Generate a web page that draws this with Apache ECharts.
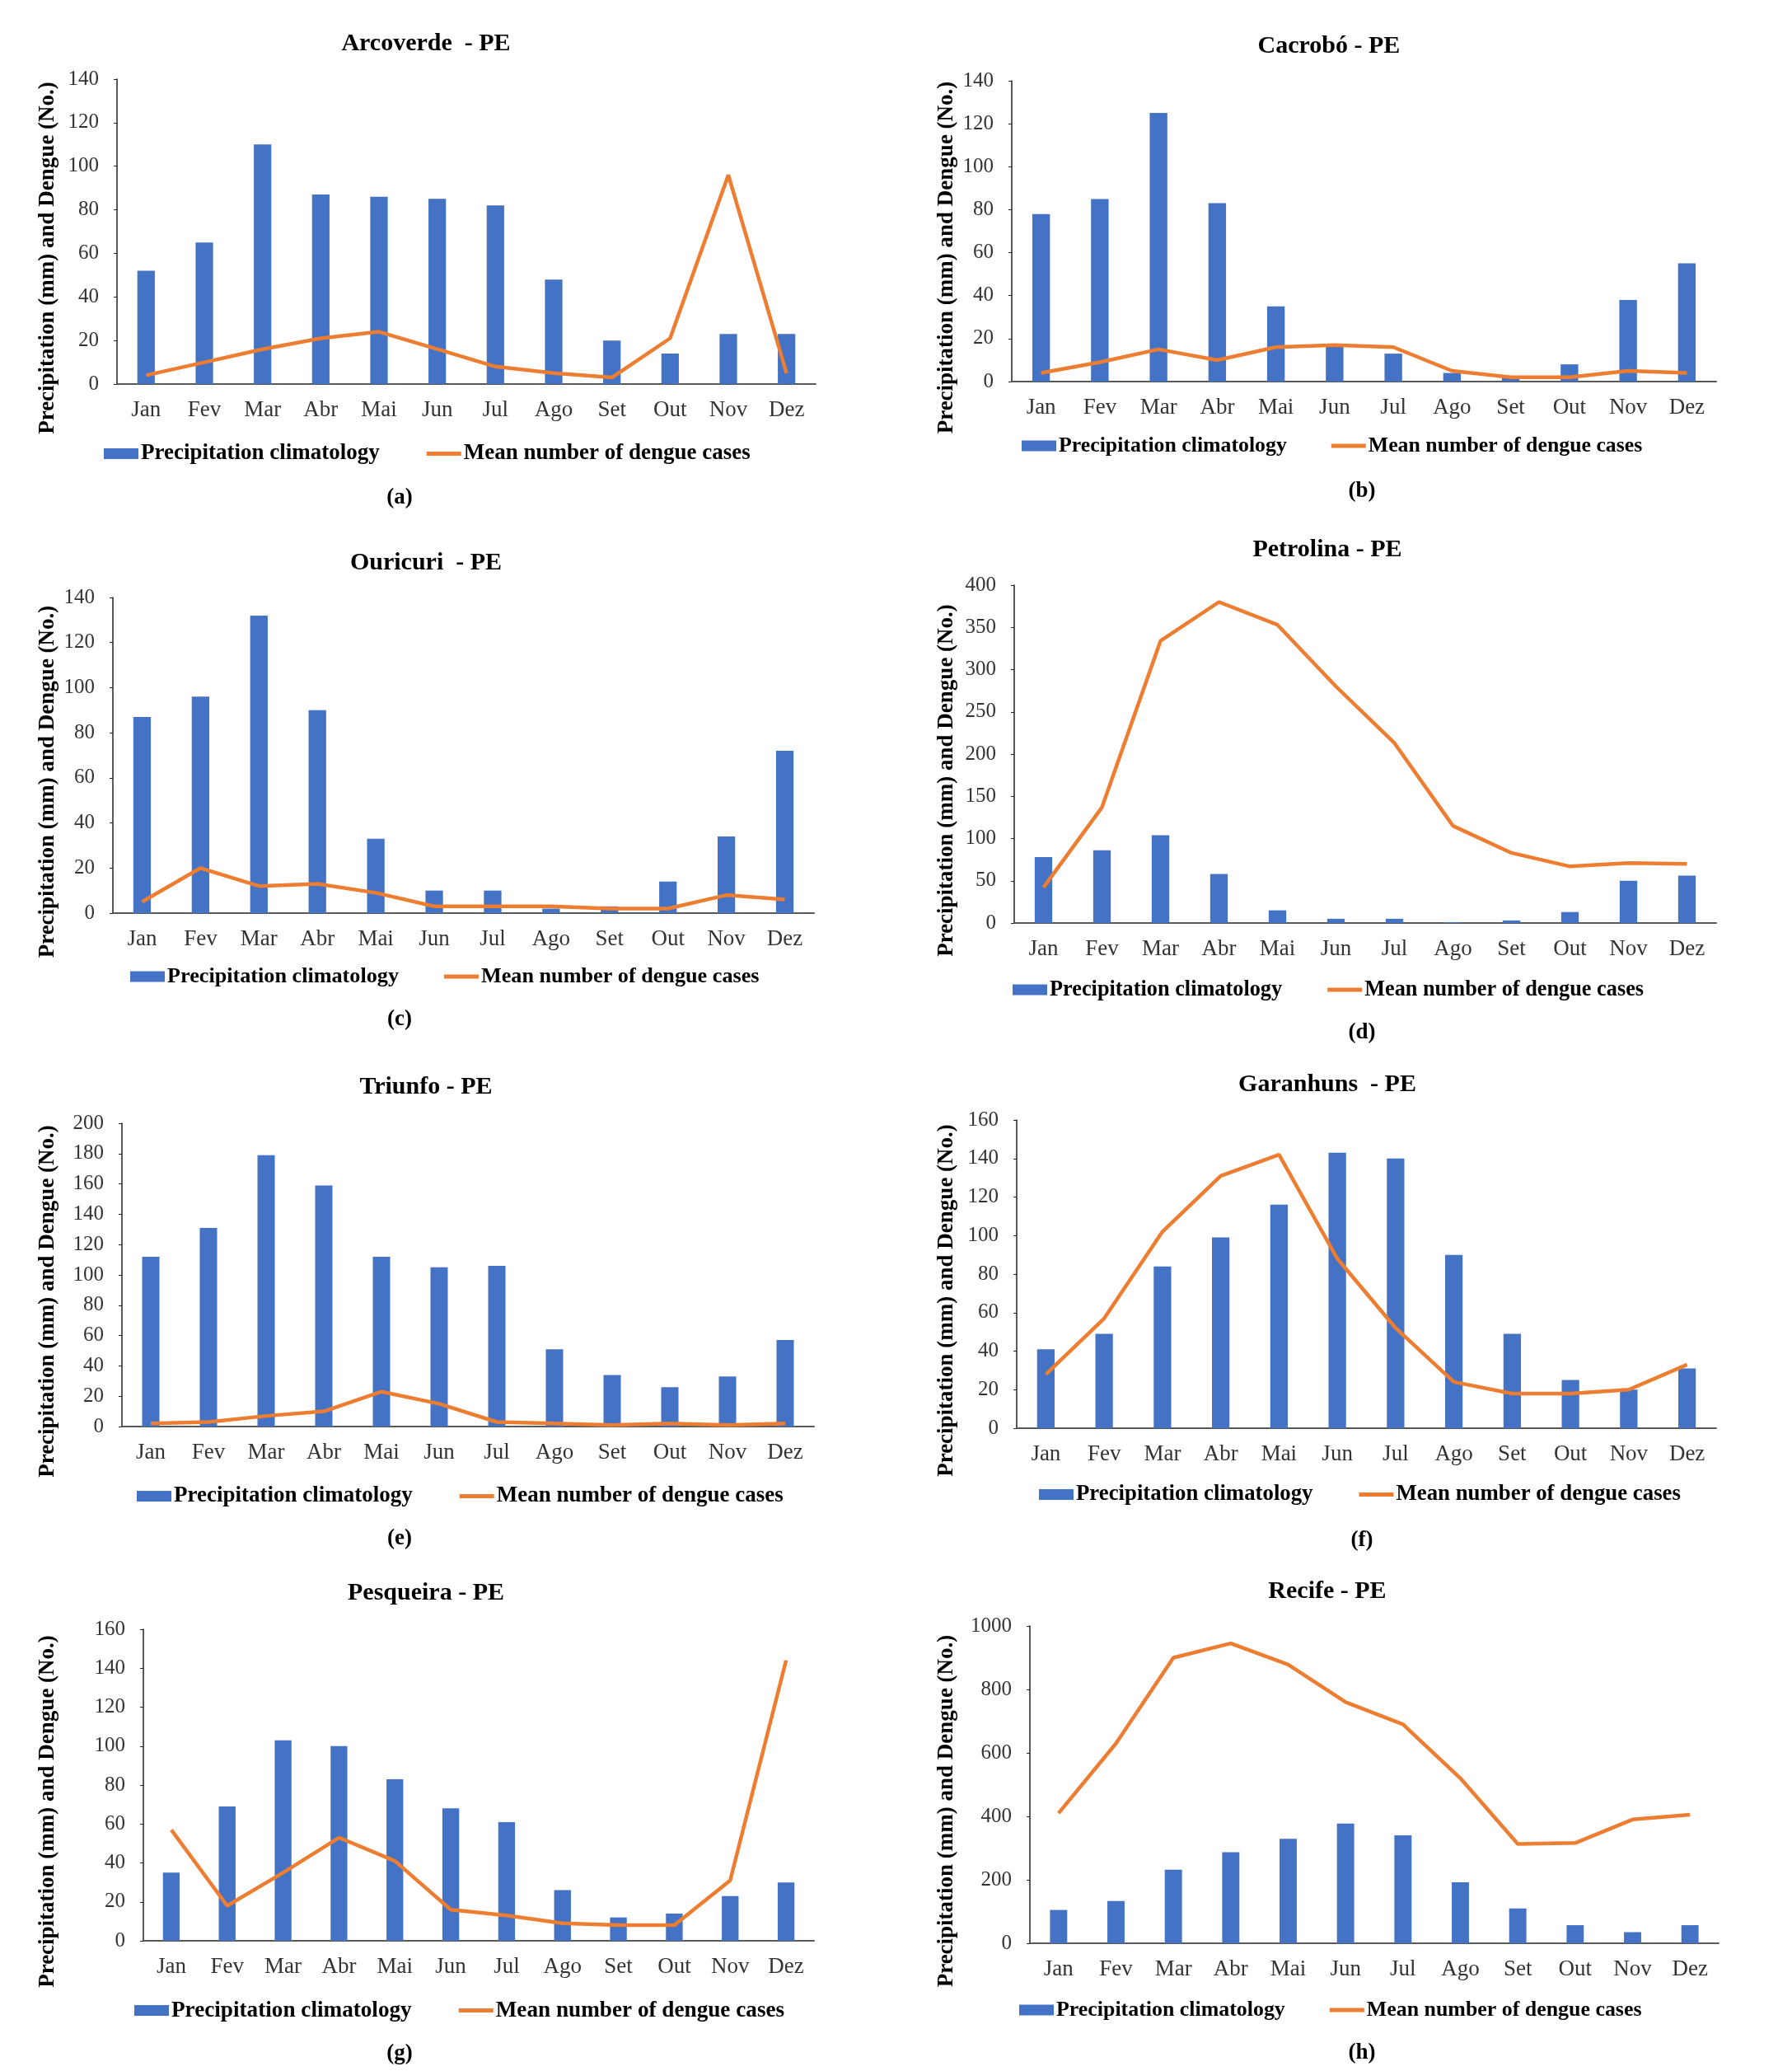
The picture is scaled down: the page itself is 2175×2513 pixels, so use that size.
<!DOCTYPE html>
<html>
<head>
<meta charset="utf-8">
<title>Precipitation and dengue - PE</title>
<style>
  html, body { margin: 0; padding: 0; background: #fff; }
  #main { width: 2175px; height: 2513px; }
</style>
</head>
<body>
<div id="main"></div>
<script src="https://cdn.jsdelivr.net/npm/echarts@6/dist/echarts.min.js"></script>
<script>
// month categories
var months = ['Jan', 'Fev', 'Mar', 'Abr', 'Mai', 'Jun', 'Jul', 'Ago', 'Set', 'Out', 'Nov', 'Dez'];

// precipitation climatology (mm) and mean dengue cases
var arcoverdeRain   = [52, 65, 110, 87, 86, 85, 82, 48, 20, 14, 23, 23];
var arcoverdeDengue = [4, 10, 16, 21, 24, 16, 8, 5, 3, 21, 96, 5];
var cacroboRain     = [78, 85, 125, 83, 35, 17, 13, 4, 2, 8, 38, 55];
var cacroboDengue   = [4, 9, 15, 10, 16, 17, 16, 5, 2, 2, 5, 4];
var ouricuriRain    = [87, 96, 132, 90, 33, 10, 10, 2, 3, 14, 34, 72];
var ouricuriDengue  = [5, 20, 12, 13, 9, 3, 3, 3, 2, 2, 8, 6];
var petrolinaRain   = [78, 86, 104, 58, 15, 5, 5, 1, 3, 13, 50, 56];
var petrolinaDengue = [42, 137, 334, 380, 353, 280, 213, 115, 83, 67, 71, 70];
var triunfoRain     = [112, 131, 179, 159, 112, 105, 106, 51, 34, 26, 33, 57];
var triunfoDengue   = [2, 3, 7, 10, 23, 15, 3, 2, 1, 2, 1, 2];
var garanhunsRain   = [41, 49, 84, 99, 116, 143, 140, 90, 49, 25, 20, 31];
var garanhunsDengue = [28, 57, 102, 131, 142, 88, 52, 24, 18, 18, 20, 33];
var pesqueiraRain   = [35, 69, 103, 100, 83, 68, 61, 26, 12, 14, 23, 30];
var pesqueiraDengue = [57, 18, 35, 53, 41, 16, 13, 9, 8, 8, 31, 144];
var recifeRain      = [105, 133, 232, 287, 329, 377, 340, 192, 110, 57, 35, 57];
var recifeDengue    = [410, 630, 900, 945, 878, 760, 690, 520, 313, 316, 390, 405];

// axis maxima and tick steps
var axisMax  = [140, 140, 140, 400, 200, 160, 160, 1000];
var axisStep = [20, 20, 20, 50, 20, 20, 20, 200];

var titles = ['Arcoverde  - PE', 'Cacrobó - PE', 'Ouricuri  - PE', 'Petrolina - PE',
              'Triunfo - PE', 'Garanhuns  - PE', 'Pesqueira - PE', 'Recife - PE'];
var letters = ['(a)', '(b)', '(c)', '(d)', '(e)', '(f)', '(g)', '(h)'];
var rain   = [arcoverdeRain, cacroboRain, ouricuriRain, petrolinaRain, triunfoRain, garanhunsRain, pesqueiraRain, recifeRain];
var dengue = [arcoverdeDengue, cacroboDengue, ouricuriDengue, petrolinaDengue, triunfoDengue, garanhunsDengue, pesqueiraDengue, recifeDengue];

var rainName = 'Precipitation climatology';
var dengueName = 'Mean number of dengue cases';

// layout of each panel in page pixels (nx = centre of the rotated axis name, lf = legend font size)
var boxes = [
  { l: 142,  t: 96,   w: 848, h: 370, tx: 512,  ty: 50,   lx: 126,  ly: 548,  px: 480,  py: 601,  nx: 58,   lf: 27 },
  { l: 1228, t: 98,   w: 855, h: 365, tx: 1608, ty: 53,   lx: 1240, ly: 539,  px: 1648, py: 593,  nx: 1149, lf: 25.8 },
  { l: 137,  t: 725,  w: 851, h: 383, tx: 512,  ty: 680,  lx: 158,  ly: 1183, px: 480,  py: 1234, nx: 58,   lf: 26.2 },
  { l: 1231, t: 710,  w: 852, h: 410, tx: 1606, ty: 664,  lx: 1229, ly: 1199, px: 1648, py: 1250, nx: 1149, lf: 26.3 },
  { l: 148,  t: 1363, w: 840, h: 368, tx: 512,  ty: 1316, lx: 166,  ly: 1813, px: 480,  py: 1864, nx: 58,   lf: 27 },
  { l: 1234, t: 1359, w: 849, h: 374, tx: 1606, ty: 1313, lx: 1261, ly: 1811, px: 1648, py: 1866, nx: 1149, lf: 26.8 },
  { l: 174,  t: 1977, w: 814, h: 378, tx: 512,  ty: 1930, lx: 163,  ly: 2437, px: 480,  py: 2489, nx: 58,   lf: 27.2 },
  { l: 1250, t: 1973, w: 836, h: 385, tx: 1606, ty: 1928, lx: 1237, ly: 2437, px: 1648, py: 2488, nx: 1149, lf: 25.9 }
];

var serif = '"Liberation Serif", "Times New Roman", serif';
var nameSize = 27;
var option = {
  backgroundColor: '#fff',
  animation: false,
  title: [], grid: [], xAxis: [], yAxis: [], legend: [], series: []
};

boxes.forEach(function (b, i) {
  option.title.push({
    text: titles[i], left: b.tx, top: b.ty - 17, textAlign: 'center',
    textStyle: { fontFamily: serif, fontSize: 30, fontWeight: 'bold', color: '#000' }
  });
  option.title.push({
    text: letters[i], left: b.px, top: b.py - 15, textAlign: 'center',
    textStyle: { fontFamily: serif, fontSize: 27, fontWeight: 'bold', color: '#000' }
  });
  option.grid.push({ left: b.l, top: b.t, width: b.w, height: b.h, containLabel: false });
  option.xAxis.push({
    type: 'category', gridIndex: i, data: months,
    axisLine: { lineStyle: { color: '#595959', width: 2 } },
    axisTick: { show: false },
    axisLabel: { fontFamily: serif, fontSize: 27, color: '#333', margin: 18 }
  });
  option.yAxis.push({
    type: 'value', gridIndex: i, min: 0, max: axisMax[i], interval: axisStep[i],
    name: 'Precipitation (mm) and Dengue (No.)',
    nameLocation: 'middle', nameGap: b.l - b.nx - nameSize / 2, nameRotate: 90,
    nameTextStyle: { fontFamily: serif, fontSize: nameSize, fontWeight: 'bold', color: '#000', padding: [0, 64, 0, 0] },
    axisLine: { show: true, lineStyle: { color: '#222', width: 1.5 } },
    axisTick: { show: true, length: 4, lineStyle: { color: '#222' } },
    splitLine: { show: false },
    axisLabel: {
      fontFamily: serif, fontSize: 25, color: '#333', margin: 22,
      formatter: function (v) { return String(v); }
    }
  });
  option.legend.push({
    left: b.lx, top: b.ly - 11, padding: 0, itemWidth: 42, itemHeight: 13,
    itemGap: Math.round(b.lf * 2.1),
    textStyle: { fontFamily: serif, fontSize: b.lf, fontWeight: 'bold', color: '#000', padding: [0, 0, 0, -2] },
    data: [
      { name: rainName, icon: 'rect' },
      { name: dengueName, icon: 'path://M0,0h42v5h-42z' }
    ]
  });
  option.series.push({
    name: rainName, type: 'bar', xAxisIndex: i, yAxisIndex: i,
    data: rain[i], barWidth: '30%',
    itemStyle: { color: '#4472C4' }
  });
  option.series.push({
    name: dengueName, type: 'line', xAxisIndex: i, yAxisIndex: i,
    data: dengue[i], showSymbol: false, smooth: false,
    lineStyle: { color: '#ED7D31', width: 4.5 },
    itemStyle: { color: '#ED7D31' }
  });
});

var chart = echarts.init(document.getElementById('main'));
chart.setOption(option);
</script>
</body>
</html>
